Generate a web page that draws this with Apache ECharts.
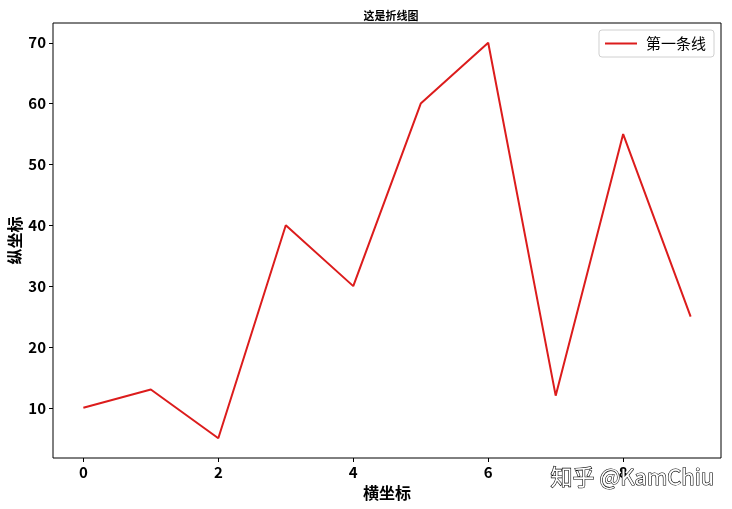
<!DOCTYPE html>
<html><head><meta charset="utf-8">
<script src="https://cdn.jsdelivr.net/npm/echarts@6/dist/echarts.min.js"></script>
<style>html,body{margin:0;padding:0;background:#fff}#c{width:732px;height:509px}</style>
</head><body><div id="c"></div>
<script>
const xValues = [0, 1, 2, 3, 4, 5, 6, 7, 8, 9];
const yValues = [10, 13, 5, 40, 30, 60, 70, 12, 55, 25];
const xTicks = [0, 2, 4, 6, 8];
const yTicks = [10, 20, 30, 40, 50, 60, 70];
const seriesName = '第一条线';
const titleText = '这是折线图';
const xName = '横坐标';
const yName = '纵坐标';
const watermark = '知乎 @KamChiu';

const chart = echarts.init(document.getElementById('c'), null, {renderer: 'canvas'});
const tickFont = {fontFamily: 'Noto Sans CJK SC', fontSize: 15, fontWeight: 'bold', color: '#000'};
chart.setOption({
  animation: false,
  backgroundColor: '#fff',
  title: {text: titleText, left: 386, top: 5, textAlign: 'center',
    textStyle: {fontFamily: 'Noto Sans CJK SC', fontSize: 11, fontWeight: 'bold', color: '#000'}},
  grid: {left: 53, right: 11, top: 23, bottom: 51, containLabel: false, outerBoundsMode: 'none',
    show: true, borderColor: '#000', borderWidth: 1, backgroundColor: 'transparent'},
  legend: {data: [{name: seriesName, icon: 'rect'}], right: 18, top: 30, orient: 'vertical',
    itemWidth: 32, itemHeight: 2.2, itemGap: 8,
    padding: [6, 8, 6, 6], borderColor: '#d0d0d0', borderWidth: 1, borderRadius: 3,
    textStyle: {fontFamily: 'Noto Sans CJK SC', fontSize: 15, color: '#000', padding: [0, 0, 0, 4]}},
  xAxis: {type: 'value', min: -0.45, max: 9.45, position: 'bottom',
    name: xName, nameLocation: 'middle', nameGap: 27, nameMoveOverlap: false,
    nameTextStyle: {fontFamily: 'Noto Sans CJK SC', fontSize: 16, fontWeight: 'bold', color: '#000'},
    axisLine: {show: false, onZero: false}, splitLine: {show: false},
    axisTick: {show: true, length: 4, lineStyle: {color: '#000'}, customValues: xTicks},
    axisLabel: Object.assign({customValues: xTicks, margin: 7}, tickFont)},
  yAxis: {type: 'value', min: 1.75, max: 73.25, position: 'left',
    name: yName, nameLocation: 'middle', nameGap: 30, nameRotate: 90, nameMoveOverlap: false,
    nameTextStyle: {fontFamily: 'Noto Sans CJK SC', fontSize: 16, fontWeight: 'bold', color: '#000'},
    axisLine: {show: false, onZero: false}, splitLine: {show: false},
    axisTick: {show: true, length: 4, lineStyle: {color: '#000'}, customValues: yTicks},
    axisLabel: Object.assign({customValues: yTicks, margin: 7}, tickFont)},
  series: [{name: seriesName, type: 'line', data: xValues.map((x, i) => [x, yValues[i]]),
    showSymbol: false, symbol: 'none', color: '#dc1c1c', lineStyle: {width: 2, color: '#dc1c1c'}}],
  graphic: [{type: 'text', left: 550, top: 465, z: 100,
    style: {text: watermark, fontFamily: 'Noto Sans CJK SC', fontSize: 22, fill: '#fff', stroke: '#000', lineWidth: 1.2}}]
});
</script></body></html>
